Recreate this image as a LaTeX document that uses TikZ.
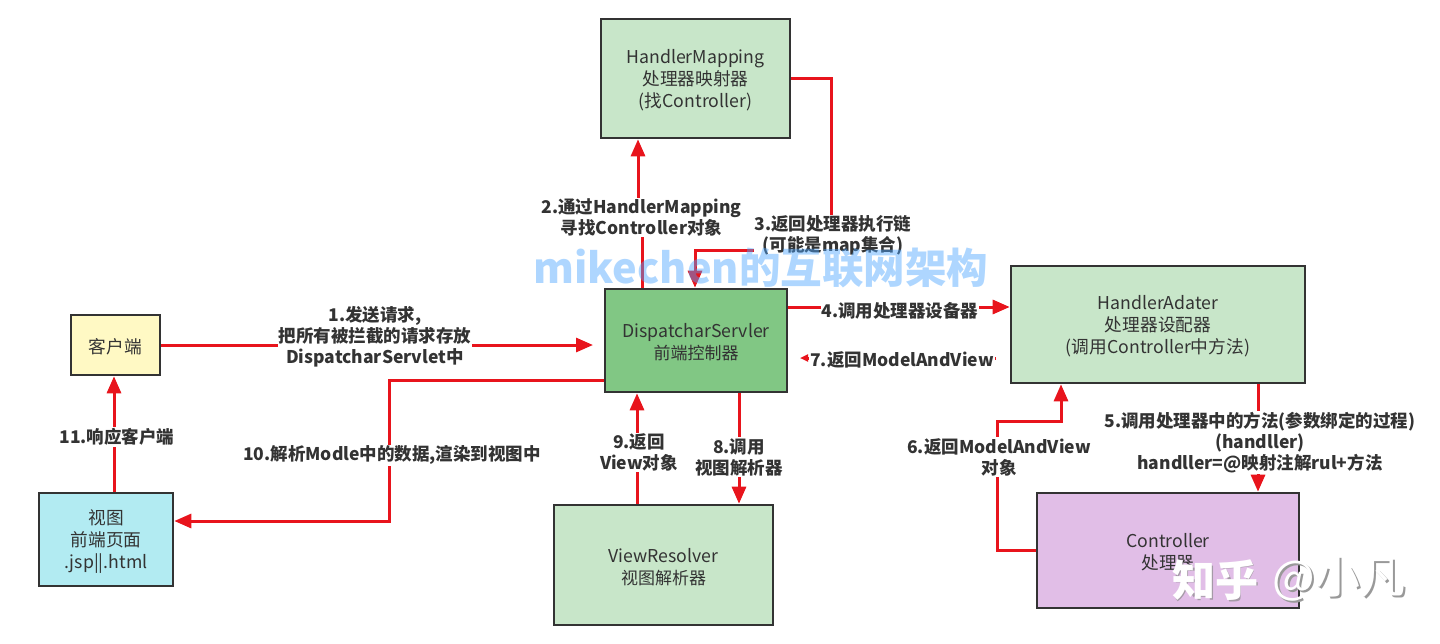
\documentclass[tikz,border=0pt]{standalone}
\usepackage{fontspec}
\setmainfont{Noto Sans CJK SC}
\usetikzlibrary{arrows.meta,calc}
\definecolor{arrowred}{HTML}{E8141C}
\definecolor{boxline}{HTML}{333333}
\definecolor{txt}{HTML}{333333}
\tikzset{
  box/.style={draw=boxline,line width=2.6pt,align=center,text=txt,inner sep=0pt,font=\fontsize{17.7}{22}\selectfont},
  conn/.style={draw=arrowred,line width=3pt,-{Triangle[length=17pt,width=14pt]}},
  lab/.style={fill=white,inner sep=1pt,align=center,text=txt,font=\fontsize{17.5}{21}\selectfont\bfseries},
}
\newcommand{\bx}[7]{\node[box,fill=#6,minimum width=#4 pt,minimum height=#5 pt] (#1) at (#2,#3) {\rule{0pt}{18pt}#7};}
\begin{document}
\begin{tikzpicture}[x=1pt,y=-1pt]
\useasboundingbox[fill=white] (0,0) rectangle (1440,643);
\definecolor{cgreen}{HTML}{C8E6C9}\definecolor{dgreen}{HTML}{81C784}
\definecolor{cyel}{HTML}{FFF9C4}\definecolor{cblue}{HTML}{B2EBF2}\definecolor{cpur}{HTML}{E1BEE7}
\bx{hm}{695.5}{78.5}{189}{119}{cgreen}{HandlerMapping\\处理器映射器\\(找Controller)}
\bx{ds}{696}{340.5}{182}{103}{dgreen}{DispatcharServler\\{\fontsize{17}{22}\selectfont 前端控制器}}
\bx{ha}{1158}{324.5}{294}{117}{cgreen}{HandlerAdater\\处理器设配器\\(调用Controller中方法)}
\bx{cl}{115.5}{345}{89}{60}{cyel}{客户端}
\bx{vw}{106}{539.5}{134}{93}{cblue}{视图\\前端页面\\.jsp||.html}
\bx{vr}{663.5}{565}{219}{120}{cgreen}{ViewResolver\\{\fontsize{17}{22}\selectfont 视图解析器}}
\bx{ct}{1168}{550.5}{262}{115}{cpur}{Controller\\处理器}
% free ends and bends
\coordinate (p1) at (593,345);
\coordinate (x2) at (642,0);
\coordinate (k2a) at (642,215);
\coordinate (k2b) at (638,215);
\coordinate (x3) at (695,0);
\coordinate (b3a) at (831,78.5);
\coordinate (b3b) at (831,250);
\coordinate (b3c) at (695,250);
\coordinate (s7) at (996,358);
\coordinate (e7) at (800,358);
\coordinate (x5) at (1258,0);
\coordinate (b6a) at (997,550.5);
\coordinate (b6b) at (997,421);
\coordinate (b6c) at (1061,421);
\coordinate (x8) at (739,0);
\coordinate (x9) at (637,0);
\coordinate (y4) at (0,307);
\coordinate (y10) at (0,380);
\coordinate (b10a) at (389,380);
\coordinate (b10b) at (389,521);
\coordinate (y10e) at (0,521);
\coordinate (x11) at (114,0);
% connectors
\draw[conn] (cl.east) -- (p1);
\draw[conn] (x2 |- ds.north) -- (k2a) -- (k2b) -- (k2b |- hm.south);
\draw[conn] (hm.east) -- (b3a) -- (b3b) -- (b3c) -- (x3 |- ds.north);
\draw[conn] (ds.east |- y4) -- (ha.west |- y4);
\draw[conn,-{Triangle[length=8pt,width=7pt]}] (s7) -- (e7);
\draw[conn] (x5 |- ha.south) -- (x5 |- ct.north);
\draw[conn] (ct.west) -- (b6a) -- (b6b) -- (b6c) -- (b6c |- ha.south);
\draw[conn] (x8 |- ds.south) -- (x8 |- vr.north);
\draw[conn] (x9 |- vr.north) -- (x9 |- ds.south);
\draw[conn] (ds.west |- y10) -- (b10a) -- (b10b) -- (vw.east |- y10e);
\draw[conn] (x11 |- vw.north) -- (x11 |- cl.south);
% labels
\node[lab] (l1) at (375,337) {1.发送请求,\\把所有被拦截的请求存放\\DispatcharServlet中};
\node[lab] (l2) at (641.5,217.5) {2.通过HandlerMapping\\寻找Controller对象};
\node[lab] (l3) at (833,235.5) {3.返回处理器执行链\\(可能是map集合)};
\node[lab] (l4) at (900,311) {4.调用处理器设备器};
\node[lab] (l5) at (1260,442.5) {5.调用处理器中的方法(参数绑定的过程)\\(handller)\\handller=@映射注解rul+方法};
\node[lab] (l6) at (999,457) {6.返回ModelAndView\\对象};
\node[lab] (l7) at (902,360) {7.返回ModelAndView};
\node[lab] (l8) at (739,457) {8.调用\\视图解析器};
\node[lab] (l9) at (639,452.5) {9.返回\\View对象};
\node[lab] (l10) at (392,455) {10.解析Modle中的数据,渲染到视图中};
\node[lab] (l11) at (117,437) {11.响应客户端};
% watermarks
\node[text=blue!50!cyan!70!white,opacity=.45,font=\fontsize{41.5}{46}\selectfont\bfseries,inner sep=0pt] (wm) at (761,268) {mikechen的互联网架构};
\node[text=black!45,opacity=.7,font=\fontsize{43}{48}\selectfont,inner sep=0pt] (zs) at (1217,582) {知乎};
\node[text=white,font=\fontsize{43}{48}\selectfont\bfseries,inner sep=0pt] (z) at (1215,580) {知乎};
\node[text=black!40,font=\fontsize{45}{50}\selectfont,inner sep=0pt] (xs) at (1341,581) {@小凡};
\node[text=white,font=\fontsize{45}{50}\selectfont,inner sep=0pt] (x) at (1339,579) {@小凡};
\end{tikzpicture}
\end{document}
